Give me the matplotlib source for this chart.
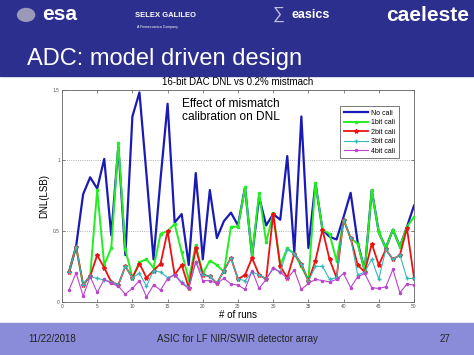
import matplotlib
matplotlib.use("Agg")
import matplotlib.pyplot as plt
from matplotlib.patches import Rectangle, Circle

plt.rcParams['font.family'] = ['Liberation Sans', 'DejaVu Sans']

# data
runs = list(range(1, 51))
no_cali = [0.21, 0.39, 0.76, 0.88, 0.80, 1.01, 0.47, 1.10, 0.33, 1.31,
           1.48, 0.90, 0.30, 0.87, 1.40, 0.56, 0.62, 0.26, 0.91, 0.30,
           0.79, 0.45, 0.57, 0.63, 0.54, 0.81, 0.32, 0.74, 0.54, 0.62,
           0.58, 1.03, 0.35, 1.31, 0.38, 0.84, 0.51, 0.46, 0.44, 0.60,
           0.77, 0.42, 0.22, 0.79, 0.49, 0.38, 0.51, 0.39, 0.53, 0.68]
cali_1bit = [0.21, 0.39, 0.12, 0.18, 0.79, 0.26, 0.38, 1.12, 0.37, 0.17,
             0.28, 0.30, 0.24, 0.48, 0.50, 0.55, 0.35, 0.155, 0.40, 0.20,
             0.29, 0.26, 0.21, 0.53, 0.53, 0.81, 0.32, 0.77, 0.42, 0.625,
             0.26, 0.377, 0.34, 0.25, 0.15, 0.84, 0.51, 0.48, 0.29, 0.58,
             0.45, 0.41, 0.22, 0.79, 0.49, 0.38, 0.51, 0.39, 0.53, 0.60]
cali_2bit = [0.21, 0.39, 0.12, 0.18, 0.33, 0.24, 0.14, 0.12, 0.25, 0.17,
             0.27, 0.17, 0.22, 0.27, 0.50, 0.19, 0.26, 0.10, 0.38, 0.19,
             0.18, 0.13, 0.22, 0.31, 0.16, 0.19, 0.31, 0.19, 0.16, 0.62,
             0.25, 0.17, 0.34, 0.27, 0.146, 0.29, 0.51, 0.30, 0.17, 0.58,
             0.45, 0.26, 0.21, 0.41, 0.26, 0.37, 0.30, 0.33, 0.52, 0.17]
cali_3bit = [0.21, 0.39, 0.12, 0.18, 0.165, 0.155, 0.14, 0.12, 0.25, 0.17,
             0.20, 0.11, 0.22, 0.21, 0.17, 0.19, 0.14, 0.10, 0.28, 0.19,
             0.18, 0.13, 0.22, 0.31, 0.16, 0.15, 0.21, 0.19, 0.16, 0.24,
             0.21, 0.37, 0.34, 0.27, 0.146, 0.25, 0.25, 0.16, 0.17, 0.58,
             0.45, 0.19, 0.21, 0.30, 0.16, 0.37, 0.30, 0.33, 0.165, 0.165]
cali_4bit = [0.083, 0.205, 0.04, 0.177, 0.066, 0.158, 0.13, 0.11, 0.054, 0.094,
             0.15, 0.035, 0.118, 0.083, 0.163, 0.19, 0.13, 0.094, 0.283, 0.149,
             0.149, 0.13, 0.165, 0.125, 0.118, 0.087, 0.22, 0.094, 0.158, 0.236,
             0.21, 0.165, 0.224, 0.087, 0.13, 0.158, 0.15, 0.14, 0.158, 0.20,
             0.10, 0.177, 0.20, 0.10, 0.094, 0.106, 0.229, 0.064, 0.125, 0.118]

xticks = [0, 5, 10, 15, 20, 25, 30, 35, 40, 45, 50]
yticks = [0, 0.5, 1, 1.5]
ytick_labels = ['0', '0.5', '1', '1.5']

fig = plt.figure(figsize=(4.74, 3.55), dpi=100)
fig.patch.set_facecolor('white')

# slide header / footer bands
fig.patches.append(Rectangle((0, 0.786), 1, 0.214, transform=fig.transFigure,
                             color='#2c2f8e', zorder=0))
fig.patches.append(Rectangle((0, 0), 1, 0.09, transform=fig.transFigure,
                             color='#8b8cd9', zorder=0))

# logos as text
fig.patches.append(Circle((0.055, 0.958), 0.018, transform=fig.transFigure,
                          color='#9a9ab8', zorder=1))
fig.text(0.088, 0.958, 'esa', color='white', fontsize=15, fontweight='bold',
         va='center')
fig.text(0.285, 0.955, 'SELEX GALILEO', color='white', fontsize=5.5,
         fontweight='bold', va='center')
fig.text(0.288, 0.925, 'A Finmeccanica Company', color='white', fontsize=2.5,
         va='center')
fig.text(0.575, 0.958, '\u2211', color='#c0c0e0', fontsize=12, va='center')
fig.text(0.615, 0.958, 'easics', color='white', fontsize=9, fontweight='bold',
         va='center')
fig.text(0.815, 0.955, 'caeleste', color='white', fontsize=15, fontweight='bold',
         va='center')

fig.text(0.058, 0.835, 'ADC: model driven design', color='white', fontsize=17,
         va='center')

fig.text(0.06, 0.045, '11/22/2018', color='#222222', fontsize=7, va='center')
fig.text(0.5, 0.045, 'ASIC for LF NIR/SWIR detector array', color='#222222',
         fontsize=7, va='center', ha='center')
fig.text(0.928, 0.045, '27', color='#222222', fontsize=7, va='center')

ax = fig.add_axes([0.1308, 0.150, 0.7426, 0.5976])
ax.plot(runs, no_cali, color='#1a1ab4', lw=1.6, label='No cali', zorder=2)
ax.plot(runs, cali_1bit, color='#22ee22', lw=1.4, marker='s', ms=1.6,
        label='1bit cali', zorder=3)
ax.plot(runs, cali_2bit, color='#ee1111', lw=1.3, marker='*', ms=3,
        label='2bit cali', zorder=4)
ax.plot(runs, cali_3bit, color='#33bbbb', lw=0.8, marker='+', ms=2.5,
        label='3bit cali', zorder=5)
ax.plot(runs, cali_4bit, color='#bb44cc', lw=0.8, marker='.', ms=3,
        label='4bit cali', zorder=6)

ax.set_xlim(0, 50)
ax.set_ylim(0, 1.5)
ax.set_xticks(xticks)
ax.set_yticks(yticks)
ax.set_yticklabels(ytick_labels)
ax.tick_params(direction='in', top=True, right=True, length=2.5, width=0.5,
               labelsize=3.5, pad=1.5, colors='#555555')
ax.grid(axis='y', linestyle=':', color='#999999', lw=0.6)
for s in ax.spines.values():
    s.set_linewidth(0.6)
    s.set_color('#666666')

ax.set_title('16-bit DAC DNL vs 0.2% mistmach', fontsize=7, pad=3)
ax.set_xlabel('# of runs', fontsize=7, labelpad=1)
ax.set_ylabel('DNL(LSB)', fontsize=7, labelpad=3)

ax.text(17.0, 1.44, 'Effect of mismatch\ncalibration on DNL', fontsize=8.6,
        va='top', ha='left', linespacing=1.1)

leg = ax.legend(loc='upper right', bbox_to_anchor=(0.966, 0.937), fontsize=5,
                handlelength=3.5, borderpad=0.5, labelspacing=0.35,
                handletextpad=0.4, fancybox=False, framealpha=1)
leg.get_frame().set_edgecolor('#444444')
leg.get_frame().set_linewidth(0.5)

fig.savefig('out.png', dpi=100)
